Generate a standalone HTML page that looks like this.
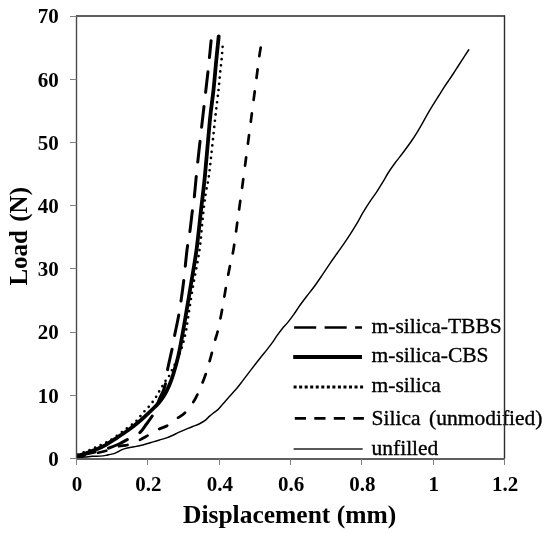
<!DOCTYPE html><html><head><meta charset="utf-8"><style>html,body{margin:0;padding:0;background:#fff}svg{display:block}text{font-family:"Liberation Serif","Times New Roman",serif}</style></head><body>
<svg width="550" height="534" viewBox="0 0 550 534">
<rect width="550" height="534" fill="#fff"/>
<defs><clipPath id="pa"><rect x="76.5" y="14" width="428" height="444.5"/></clipPath></defs>
<g fill="none" stroke="#000" stroke-linejoin="round" stroke-linecap="round" clip-path="url(#pa)">
<path d="M468.75,49.75 C467.84,51.16 465.09,55.44 463.31,58.19 C461.53,60.94 459.66,63.78 458.06,66.25 C456.47,68.72 455.19,70.81 453.75,73.00 C452.31,75.19 451.03,77.03 449.44,79.38 C447.84,81.72 445.97,84.33 444.19,87.06 C442.41,89.79 440.50,92.96 438.75,95.75 C437.00,98.54 435.40,101.03 433.69,103.81 C431.98,106.59 430.32,109.28 428.50,112.42 C426.68,115.57 424.67,119.36 422.77,122.68 C420.88,125.99 419.10,129.14 417.12,132.33 C415.15,135.51 413.28,138.40 410.95,141.78 C408.62,145.15 405.78,149.00 403.12,152.55 C400.47,156.10 397.50,159.68 395.02,163.05 C392.55,166.42 390.34,169.52 388.27,172.75 C386.21,175.98 384.55,179.26 382.62,182.45 C380.70,185.64 378.88,188.64 376.73,191.88 C374.58,195.11 372.02,198.38 369.72,201.85 C367.42,205.32 365.06,209.11 362.93,212.70 C360.79,216.29 359.03,219.81 356.93,223.38 C354.82,226.94 352.52,230.62 350.30,234.08 C348.08,237.53 345.78,240.91 343.60,244.10 C341.42,247.29 339.48,249.98 337.20,253.23 C334.92,256.47 332.43,259.88 329.90,263.57 C327.37,267.27 324.63,271.56 322.00,275.43 C319.37,279.29 316.68,283.27 314.10,286.77 C311.52,290.28 308.91,293.35 306.52,296.48 C304.14,299.60 301.89,302.53 299.77,305.52 C297.66,308.52 295.79,311.68 293.82,314.45 C291.86,317.22 289.94,319.75 288.00,322.12 C286.06,324.50 284.04,326.45 282.20,328.70 C280.36,330.95 278.66,333.27 276.98,335.65 C275.29,338.02 273.79,340.58 272.10,342.95 C270.41,345.32 268.68,347.53 266.82,349.88 C264.97,352.22 262.99,354.51 261.00,357.00 C259.01,359.49 256.93,362.15 254.88,364.80 C252.82,367.45 250.69,370.27 248.68,372.90 C246.66,375.53 244.70,378.11 242.80,380.57 C240.90,383.04 239.07,385.55 237.30,387.70 C235.53,389.85 233.90,391.58 232.20,393.50 C230.50,395.42 228.80,397.30 227.10,399.20 C225.40,401.10 223.48,403.20 222.00,404.90 C220.52,406.60 219.68,408.02 218.20,409.40 C216.72,410.78 214.58,412.03 213.10,413.20 C211.62,414.37 210.57,415.23 209.30,416.40 C208.03,417.57 207.20,418.93 205.50,420.20 C203.80,421.47 201.23,422.95 199.10,424.00 C196.97,425.05 194.82,425.65 192.70,426.50 C190.58,427.35 188.75,428.12 186.40,429.10 C184.05,430.08 180.95,431.33 178.60,432.40 C176.25,433.47 174.42,434.55 172.30,435.50 C170.18,436.45 168.03,437.35 165.90,438.10 C163.77,438.85 161.62,439.37 159.50,440.00 C157.38,440.63 155.32,441.27 153.20,441.90 C151.08,442.53 148.92,443.20 146.80,443.80 C144.68,444.40 142.62,445.00 140.50,445.50 C138.38,446.00 136.30,446.38 134.10,446.80 C131.90,447.22 129.20,447.57 127.30,448.00 C125.40,448.43 124.17,448.82 122.70,449.40 C121.23,449.98 119.95,450.80 118.50,451.50 C117.05,452.20 115.42,453.12 114.00,453.60 C112.58,454.08 111.33,454.10 110.00,454.40 C108.67,454.70 107.67,455.12 106.00,455.40 C104.33,455.68 102.33,455.95 100.00,456.10 C97.67,456.25 94.50,456.15 92.00,456.30 C89.50,456.45 87.58,456.80 85.00,457.00 C82.42,457.20 77.92,457.42 76.50,457.50" stroke-width="1.45"/>
<path d="M260.70,47.50 C260.47,48.97 259.78,52.90 259.30,56.30 C258.82,59.70 259.18,57.28 257.80,67.90 C256.42,78.52 253.40,101.62 251.00,120.00 C248.60,138.38 245.17,164.87 243.40,178.20 C241.63,191.53 241.40,192.75 240.40,200.00 C239.40,207.25 238.57,213.37 237.40,221.70 C236.23,230.03 234.62,242.78 233.40,250.00 C232.18,257.22 231.35,258.75 230.10,265.00 C228.85,271.25 227.22,280.13 225.90,287.50 C224.58,294.87 223.55,301.97 222.20,309.20 C220.85,316.43 219.02,325.62 217.80,330.90 C216.58,336.18 216.12,336.38 214.90,340.90 C213.68,345.42 212.05,352.40 210.50,358.00 C208.95,363.60 207.38,369.32 205.60,374.50 C203.82,379.68 201.73,384.68 199.80,389.10 C197.87,393.52 196.42,397.12 194.00,401.00 C191.58,404.88 188.13,409.48 185.30,412.40 C182.47,415.32 179.95,416.32 177.00,418.50 C174.05,420.68 170.67,423.70 167.60,425.50 C164.53,427.30 161.83,427.67 158.60,429.30 C155.37,430.93 151.45,433.47 148.20,435.30 C144.95,437.13 142.43,438.72 139.10,440.30 C135.77,441.88 131.72,443.77 128.20,444.80 C124.68,445.83 121.53,445.55 118.00,446.50 C114.47,447.45 110.50,449.42 107.00,450.50 C103.50,451.58 102.08,451.95 97.00,453.00 C91.92,454.05 79.92,456.17 76.50,456.80" stroke-width="2.7" stroke-dasharray="8.7 13.4"/>
<path d="M222.60,46.80 C222.43,48.92 222.00,55.30 221.60,59.50 C221.20,63.70 220.72,66.92 220.20,72.00 C219.68,77.08 219.37,82.00 218.50,90.00 C217.63,98.00 216.53,106.22 215.00,120.00 C213.47,133.78 210.80,160.75 209.30,172.70 C207.80,184.65 206.85,186.40 206.00,191.70 C205.15,197.00 204.82,199.38 204.20,204.50 C203.58,209.62 203.08,214.82 202.30,222.40 C201.52,229.98 201.07,239.23 199.50,250.00 C197.93,260.77 194.82,275.67 192.90,287.00 C190.98,298.33 189.12,310.83 188.00,318.00 C186.88,325.17 186.97,326.00 186.20,330.00 C185.43,334.00 184.38,338.33 183.40,342.00 C182.42,345.67 181.45,348.83 180.30,352.00 C179.15,355.17 177.80,358.17 176.50,361.00 C175.20,363.83 173.85,366.30 172.50,369.00 C171.15,371.70 169.60,375.17 168.40,377.20 C167.20,379.23 166.18,379.88 165.30,381.20 C164.42,382.52 163.90,383.80 163.10,385.10 C162.30,386.40 161.32,387.67 160.50,389.00 C159.68,390.33 159.07,391.57 158.20,393.10 C157.33,394.63 156.40,396.50 155.30,398.20 C154.20,399.90 152.93,401.60 151.60,403.30 C150.27,405.00 148.75,406.80 147.30,408.40 C145.85,410.00 144.37,411.22 142.90,412.90 C141.43,414.58 139.95,416.83 138.50,418.50 C137.05,420.17 135.95,421.40 134.20,422.90 C132.45,424.40 130.37,425.73 128.00,427.50 C125.63,429.27 122.93,431.37 120.00,433.50 C117.07,435.63 112.98,438.67 110.40,440.30 C107.82,441.93 106.57,442.30 104.50,443.30 C102.43,444.30 100.05,445.35 98.00,446.30 C95.95,447.25 94.37,448.08 92.20,449.00 C90.03,449.92 87.62,450.80 85.00,451.80 C82.38,452.80 77.92,454.47 76.50,455.00" stroke-width="2.7" stroke-dasharray="0 6.2"/>
<path d="M218.70,36.50 C218.30,40.42 217.17,51.08 216.30,60.00 C215.43,68.92 214.57,80.00 213.50,90.00 C212.43,100.00 211.32,105.83 209.90,120.00 C208.48,134.17 206.52,159.67 205.00,175.00 C203.48,190.33 202.22,199.50 200.80,212.00 C199.38,224.50 198.22,237.50 196.50,250.00 C194.78,262.50 192.42,275.33 190.50,287.00 C188.58,298.67 186.45,311.47 185.00,320.00 C183.55,328.53 182.93,332.13 181.80,338.20 C180.67,344.27 179.63,350.35 178.20,356.40 C176.77,362.45 174.67,369.73 173.20,374.50 C171.73,379.27 170.77,381.75 169.40,385.00 C168.03,388.25 166.68,391.13 165.00,394.00 C163.32,396.87 161.33,399.70 159.30,402.20 C157.27,404.70 155.27,406.57 152.80,409.00 C150.33,411.43 147.22,414.33 144.50,416.80 C141.78,419.27 139.18,421.60 136.50,423.80 C133.82,426.00 131.68,427.67 128.40,430.00 C125.12,432.33 120.55,435.33 116.80,437.80 C113.05,440.27 109.17,442.93 105.90,444.80 C102.63,446.67 100.52,447.60 97.20,449.00 C93.88,450.40 89.45,451.98 86.00,453.20 C82.55,454.42 78.08,455.78 76.50,456.30" stroke-width="3.8"/>
<path d="M211.10,40.70 C210.60,45.67 209.20,60.28 208.10,70.50 C207.00,80.72 205.77,90.92 204.50,102.00 C203.23,113.08 201.80,125.33 200.50,137.00 C199.20,148.67 197.73,162.00 196.70,172.00 C195.67,182.00 195.00,190.72 194.30,197.00 C193.60,203.28 193.23,203.97 192.50,209.70 C191.77,215.43 190.82,224.68 189.90,231.40 C188.98,238.12 187.98,242.15 187.00,250.00 C186.02,257.85 185.00,270.00 184.00,278.50 C183.00,287.00 181.97,294.42 181.00,301.00 C180.03,307.58 179.23,312.42 178.20,318.00 C177.17,323.58 175.73,329.72 174.80,334.50 C173.87,339.28 173.82,340.82 172.60,346.70 C171.38,352.58 168.55,364.25 167.50,369.80 C166.45,375.35 166.95,376.63 166.30,380.00 C165.65,383.37 164.68,387.00 163.60,390.00 C162.52,393.00 161.02,395.17 159.80,398.00 C158.58,400.83 157.52,404.08 156.30,407.00 C155.08,409.92 154.13,412.67 152.50,415.50 C150.87,418.33 148.58,421.17 146.50,424.00 C144.42,426.83 142.75,430.17 140.00,432.50 C137.25,434.83 133.33,436.17 130.00,438.00 C126.67,439.83 123.50,441.83 120.00,443.50 C116.50,445.17 112.75,446.67 109.00,448.00 C105.25,449.33 102.92,450.17 97.50,451.50 C92.08,452.83 80.00,455.25 76.50,456.00" stroke-width="3.0" stroke-dasharray="20.7 14.3" stroke-dashoffset="3.7"/>
</g>
<g fill="none" stroke="#000">
<line x1="294.1" y1="327.5" x2="362" y2="327.5" stroke-width="2.6" stroke-dasharray="22.1 8.4"/>
<line x1="293.2" y1="357" x2="362" y2="357" stroke-width="3.8"/>
<line x1="293.6" y1="387" x2="363.2" y2="387" stroke-width="2.8" stroke-dasharray="3 2.54"/>
<line x1="294.8" y1="418.4" x2="363.9" y2="418.4" stroke-width="2.6" stroke-dasharray="11.2 8.3"/>
<line x1="293.6" y1="449" x2="362.7" y2="449" stroke-width="1.4" stroke="#222"/>
</g>
<g font-size="21.5" fill="#000" stroke="#000" stroke-width="0.35" style="font-variant-ligatures:none">
<text x="371.5" y="332.5">m-silica-TBBS</text>
<text x="371.5" y="362.2">m-silica-CBS</text>
<text x="371.5" y="392.0">m-silica</text>
<text x="371.5" y="425.2" word-spacing="3.2">Silica (unmodified)</text>
<text x="371.5" y="455.2">unfilled</text>
</g>
<g stroke-width="1.4" fill="none">
<line x1="76" y1="16" x2="505" y2="16" stroke="#5e5e5e" stroke-width="1.8"/>
<line x1="504.5" y1="15.5" x2="504.5" y2="459" stroke="#2e2e2e"/>
<line x1="76.5" y1="15.5" x2="76.5" y2="459" stroke="#4a4a4a"/>
<line x1="76" y1="459" x2="505" y2="459" stroke="#606060" stroke-width="2"/>
<line x1="70" y1="458.50" x2="76.5" y2="458.50" stroke="#808080" stroke-width="1"/>
<line x1="70" y1="395.50" x2="76.5" y2="395.50" stroke="#808080" stroke-width="1"/>
<line x1="70" y1="332.50" x2="76.5" y2="332.50" stroke="#808080" stroke-width="1"/>
<line x1="70" y1="268.50" x2="76.5" y2="268.50" stroke="#808080" stroke-width="1"/>
<line x1="70" y1="205.50" x2="76.5" y2="205.50" stroke="#808080" stroke-width="1"/>
<line x1="70" y1="142.50" x2="76.5" y2="142.50" stroke="#808080" stroke-width="1"/>
<line x1="70" y1="79.50" x2="76.5" y2="79.50" stroke="#808080" stroke-width="1"/>
<line x1="70" y1="16.50" x2="76.5" y2="16.50" stroke="#808080" stroke-width="1"/>
<line x1="76.50" y1="459" x2="76.50" y2="465" stroke="#808080" stroke-width="1"/>
<line x1="147.50" y1="459" x2="147.50" y2="465" stroke="#808080" stroke-width="1"/>
<line x1="219.50" y1="459" x2="219.50" y2="465" stroke="#808080" stroke-width="1"/>
<line x1="290.50" y1="459" x2="290.50" y2="465" stroke="#808080" stroke-width="1"/>
<line x1="361.50" y1="459" x2="361.50" y2="465" stroke="#808080" stroke-width="1"/>
<line x1="433.50" y1="459" x2="433.50" y2="465" stroke="#808080" stroke-width="1"/>
<line x1="504.50" y1="459" x2="504.50" y2="465" stroke="#808080" stroke-width="1"/>
</g>
<g font-size="21" font-weight="bold" fill="#000">
<text x="58.7" y="465.8" text-anchor="end">0</text>
<text x="58.7" y="402.6" text-anchor="end">10</text>
<text x="58.7" y="339.4" text-anchor="end">20</text>
<text x="58.7" y="276.2" text-anchor="end">30</text>
<text x="58.7" y="212.9" text-anchor="end">40</text>
<text x="58.7" y="149.7" text-anchor="end">50</text>
<text x="58.7" y="86.5" text-anchor="end">60</text>
<text x="58.7" y="23.3" text-anchor="end">70</text>
<text x="77.10" y="490.6" text-anchor="middle">0</text>
<text x="148.43" y="490.6" text-anchor="middle">0.2</text>
<text x="219.77" y="490.6" text-anchor="middle">0.4</text>
<text x="291.10" y="490.6" text-anchor="middle">0.6</text>
<text x="362.43" y="490.6" text-anchor="middle">0.8</text>
<text x="433.77" y="490.6" text-anchor="middle">1</text>
<text x="505.10" y="490.6" text-anchor="middle">1.2</text>
</g>
<text x="183" y="522.8" font-size="25.5" font-weight="bold">Displacement (mm)</text>
<text transform="translate(27.3,236.3) rotate(-90)" text-anchor="middle" font-size="25" font-weight="bold" word-spacing="2">Load (N)</text>
</svg></body></html>
